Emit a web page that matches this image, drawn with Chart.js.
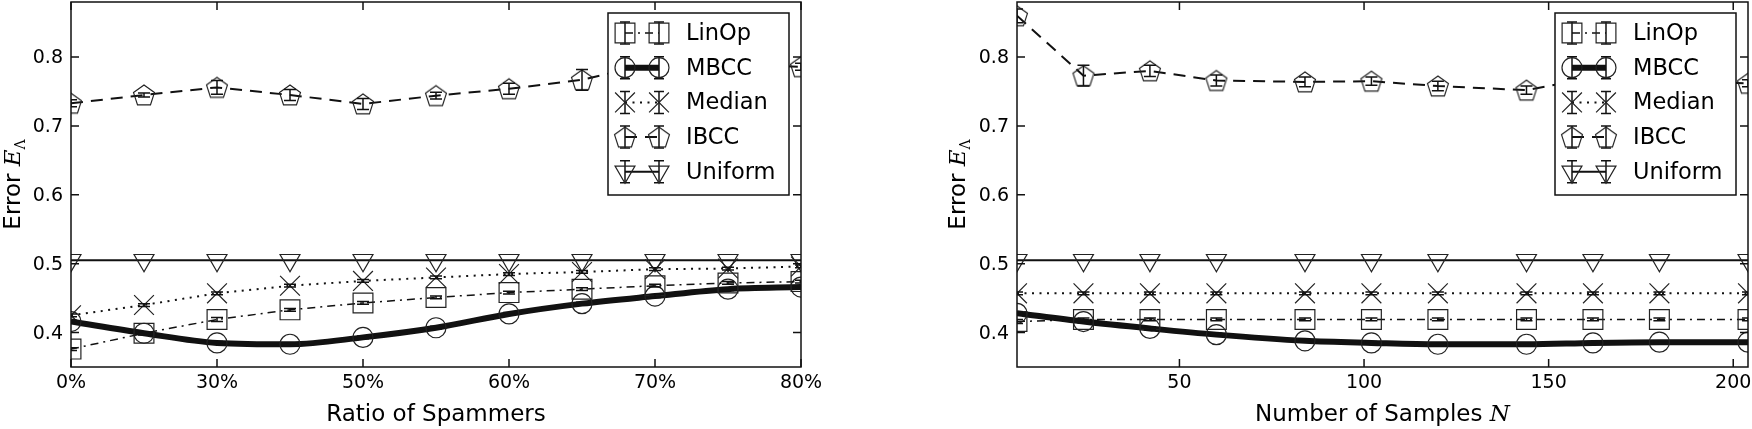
<!DOCTYPE html>
<html>
<head>
<meta charset="utf-8">
<script src="https://cdn.jsdelivr.net/npm/chart.js@4.4.1/dist/chart.umd.min.js"></script>
<style>
    body { margin: 0; background: #fff; width: 1752px; height: 429px; overflow: hidden; position: relative; }
    .panel { position: absolute; top: 0; width: 876px; height: 429px; }
</style>
</head>
<body>
<div class="panel" style="left:0"><canvas id="spam-chart"></canvas></div>
<div class="panel" style="left:876px"><canvas id="samples-chart"></canvas></div>
<script>
    "use strict";

    // x categories / ticks
    var spamLabels = ['0%', '', '30%', '', '50%', '', '60%', '', '70%', '', '80%'];
    var sampleN = [6, 24, 42, 60, 84, 102, 120, 144, 162, 180, 204];
    var sampleTicks = [50, 100, 150, 200];
    var errorTicks = [0.4, 0.5, 0.6, 0.7, 0.8];

    // left panel: error vs ratio of spammers
    var linopSpam   = [0.376, 0.399, 0.419, 0.433, 0.443, 0.451, 0.458, 0.463, 0.468, 0.472, 0.474];
    var mbccSpam    = [0.416, 0.399, 0.385, 0.383, 0.393, 0.407, 0.427, 0.442, 0.453, 0.463, 0.466];
    var medianSpam  = [0.425, 0.440, 0.457, 0.468, 0.475, 0.480, 0.485, 0.488, 0.492, 0.493, 0.496];
    var ibccSpam    = [0.733, 0.745, 0.756, 0.745, 0.732, 0.744, 0.754, 0.767, 0.792, 0.789, 0.786];
    var uniformSpam = [0.505, 0.505, 0.505, 0.505, 0.505, 0.505, 0.505, 0.505, 0.505, 0.505, 0.505];

    var linopSpamErr   = [0.002, 0.002, 0.003, 0.002, 0.002, 0.002, 0.002, 0.002, 0.002, 0.002, 0.002];
    var mbccSpamErr    = [0.002, 0.002, 0.002, 0.002, 0.002, 0.002, 0.002, 0.002, 0.002, 0.002, 0.002];
    var medianSpamErr  = [0.002, 0.002, 0.002, 0.002, 0.002, 0.002, 0.002, 0.002, 0.002, 0.002, 0.002];
    var ibccSpamErr    = [0.005, 0.003, 0.010, 0.008, 0.008, 0.005, 0.008, 0.015, 0.010, 0.005, 0.005];
    var uniformSpamErr = [0, 0, 0, 0, 0, 0, 0, 0, 0, 0, 0];

    // right panel: error vs number of samples
    var linopN   = [0.416, 0.419, 0.419, 0.419, 0.419, 0.419, 0.419, 0.419, 0.419, 0.419, 0.419];
    var mbccN    = [0.428, 0.416, 0.406, 0.397, 0.388, 0.385, 0.383, 0.383, 0.385, 0.386, 0.386];
    var medianN  = [0.457, 0.457, 0.457, 0.457, 0.457, 0.457, 0.457, 0.457, 0.457, 0.457, 0.457];
    var ibccN    = [0.860, 0.773, 0.780, 0.766, 0.764, 0.765, 0.758, 0.752, 0.770, 0.766, 0.762];
    var uniformN = [0.505, 0.505, 0.505, 0.505, 0.505, 0.505, 0.505, 0.505, 0.505, 0.505, 0.505];

    var linopNErr   = [0.003, 0.002, 0.002, 0.002, 0.002, 0.002, 0.002, 0.002, 0.002, 0.002, 0.002];
    var mbccNErr    = [0.002, 0.002, 0.002, 0.002, 0.002, 0.002, 0.002, 0.002, 0.002, 0.002, 0.002];
    var medianNErr  = [0.002, 0.002, 0.002, 0.002, 0.002, 0.002, 0.002, 0.002, 0.002, 0.002, 0.002];
    var ibccNErr    = [0.010, 0.015, 0.008, 0.008, 0.007, 0.006, 0.007, 0.006, 0.005, 0.005, 0.005];
    var uniformNErr = [0, 0, 0, 0, 0, 0, 0, 0, 0, 0, 0];

    var seriesNames = ['LinOp', 'MBCC', 'Median', 'IBCC', 'Uniform'];

    var INK = '#111';
    var SANS = '"DejaVu Sans", sans-serif';
    var TICK_FONT = '19px ' + SANS;

    // pentagon marker, matplotlib 'p'
    var pentagon = (function () {
        var c = document.createElement('canvas');
        c.width = 26;
        c.height = 26;
        var g = c.getContext('2d');
        g.strokeStyle = '#222';
        g.lineWidth = 1.2;
        g.beginPath();
        for (var k = 0; k < 5; k++) {
            var a = -Math.PI / 2 + k * 2 * Math.PI / 5;
            var px = 13 + 11 * Math.cos(a), py = 14 + 11 * Math.sin(a);
            if (k === 0) { g.moveTo(px, py); } else { g.lineTo(px, py); }
        }
        g.closePath();
        g.stroke();
        return c;
    })();

    var styles = {
        LinOp:   { point: 'rect', radius: 14, rotation: 0, dash: [8, 5, 2, 5], width: 1.5 },
        MBCC:    { point: 'circle', radius: 10, rotation: 0, dash: [], width: 6, smooth: true },
        Median:  { point: 'crossRot', radius: 14, rotation: 0, dash: [2, 5.5], width: 2 },
        IBCC:    { point: pentagon, radius: 11, rotation: 0, dash: [12, 8], width: 2 },
        Uniform: { point: 'triangle', radius: 11.5, rotation: 180, dash: [], width: 2 }
    };

    var drawParts = function (ctx, parts, cx, baseY) {
        var total = 0;
        parts.forEach(function (p) {
            ctx.font = p.font;
            total += ctx.measureText(p.text).width;
        });
        var x = cx - total / 2;
        ctx.textAlign = 'left';
        ctx.textBaseline = 'alphabetic';
        parts.forEach(function (p) {
            ctx.font = p.font;
            ctx.fillText(p.text, x, baseY + (p.dy || 0));
            x += ctx.measureText(p.text).width;
        });
    };

    var drawErrorBar = function (ctx, x, yTop, yBot, cap) {
        ctx.beginPath();
        ctx.moveTo(x, yTop);
        ctx.lineTo(x, yBot);
        ctx.moveTo(x - cap, yTop);
        ctx.lineTo(x + cap, yTop);
        ctx.moveTo(x - cap, yBot);
        ctx.lineTo(x + cap, yBot);
        ctx.stroke();
    };

    // frame, inward ticks, tick labels, error bars, axis titles and legend
    var makeDecor = function (cfg) {
        return {
            id: 'decor',
            afterDatasetsDraw: function (chart) {
                var ctx = chart.ctx, y = chart.scales.y, area = chart.chartArea;
                ctx.save();
                ctx.beginPath();
                ctx.rect(area.left, area.top, area.right - area.left, area.bottom - area.top);
                ctx.clip();
                ctx.strokeStyle = INK;
                ctx.lineWidth = 1.5;
                ctx.setLineDash([]);
                chart.data.datasets.forEach(function (ds, di) {
                    var meta = chart.getDatasetMeta(di);
                    meta.data.forEach(function (pt, i) {
                        var e = ds.errors[i];
                        if (!e) {
                            return;
                        }
                        var v = cfg.values[di][i];
                        drawErrorBar(ctx, pt.x, y.getPixelForValue(v + e), y.getPixelForValue(v - e), 6);
                    });
                });
                ctx.restore();
            },
            afterDraw: function (chart) {
                var ctx = chart.ctx, area = chart.chartArea;
                var xs = chart.scales.x, ys = chart.scales.y;
                ctx.save();
                ctx.strokeStyle = INK;
                ctx.fillStyle = '#000';
                ctx.setLineDash([]);
                ctx.lineWidth = 1.5;
                ctx.strokeRect(area.left, area.top, area.right - area.left, area.bottom - area.top);

                var tl = 8;
                ctx.font = TICK_FONT;
                ctx.beginPath();
                cfg.xTicks.forEach(function (t) {
                    var px = xs.getPixelForValue(t.value);
                    ctx.moveTo(px, area.bottom);
                    ctx.lineTo(px, area.bottom - tl);
                    ctx.moveTo(px, area.top);
                    ctx.lineTo(px, area.top + tl);
                });
                errorTicks.forEach(function (v) {
                    var py = ys.getPixelForValue(v);
                    ctx.moveTo(area.left, py);
                    ctx.lineTo(area.left + tl, py);
                    ctx.moveTo(area.right, py);
                    ctx.lineTo(area.right - tl, py);
                });
                ctx.stroke();

                // tick labels
                ctx.textAlign = 'center';
                ctx.textBaseline = 'top';
                cfg.xTicks.forEach(function (t) {
                    ctx.fillText(t.label, xs.getPixelForValue(t.value), area.bottom + 7);
                });
                ctx.textAlign = 'right';
                ctx.textBaseline = 'middle';
                errorTicks.forEach(function (v) {
                    ctx.fillText(v.toFixed(1), area.left - 8, ys.getPixelForValue(v) + 1);
                });

                // axis titles
                drawParts(ctx, cfg.xTitle, (area.left + area.right) / 2, 421);
                ctx.save();
                ctx.translate(cfg.yTitleX, (area.top + area.bottom) / 2);
                ctx.rotate(-Math.PI / 2);
                drawParts(ctx, cfg.yTitle, 0, 8);
                ctx.restore();

                // legend
                var bw = 181, bh = 182;
                var bx = area.right - 12 - bw, by = area.top + 11;
                ctx.fillStyle = '#fff';
                ctx.fillRect(bx, by, bw, bh);
                ctx.lineWidth = 1.5;
                ctx.strokeStyle = INK;
                ctx.strokeRect(bx, by, bw, bh);
                seriesNames.forEach(function (name, k) {
                    var st = styles[name];
                    var cy = by + 20 + k * 34.7;
                    var m1 = bx + 17, m2 = bx + 51;
                    ctx.strokeStyle = INK;
                    ctx.lineWidth = st.width;
                    ctx.setLineDash(st.dash);
                    ctx.beginPath();
                    ctx.moveTo(m1, cy);
                    ctx.lineTo(m2, cy);
                    ctx.stroke();
                    ctx.setLineDash([]);
                    ctx.lineWidth = 1.5;
                    drawErrorBar(ctx, m1, cy - 11, cy + 11, 5);
                    drawErrorBar(ctx, m2, cy - 11, cy + 11, 5);
                    ctx.strokeStyle = '#222';
                    ctx.fillStyle = 'rgba(0,0,0,0)';
                    ctx.lineWidth = 1.2;
                    [m1, m2].forEach(function (mx) {
                        Chart.helpers.drawPoint(ctx, {
                            pointStyle: st.point,
                            radius: st.radius,
                            rotation: st.rotation,
                            borderWidth: 1.2
                        }, mx, cy);
                    });
                    ctx.fillStyle = '#000';
                    ctx.font = '22.5px ' + SANS;
                    ctx.textAlign = 'left';
                    ctx.textBaseline = 'middle';
                    ctx.fillText(name, bx + 78, cy + 1);
                });
                ctx.restore();
            }
        };
    };

    var buildDatasets = function (values, errors, xs) {
        return seriesNames.map(function (name, k) {
            var st = styles[name];
            return {
                label: name,
                data: xs ? values[k].map(function (v, i) { return { x: xs[i], y: v }; }) : values[k],
                errors: errors[k],
                borderColor: INK,
                borderWidth: st.width,
                borderDash: st.dash,
                tension: st.smooth ? 0.4 : 0,
                cubicInterpolationMode: st.smooth ? 'monotone' : 'default',
                pointStyle: st.point,
                pointRadius: st.radius,
                pointRotation: st.rotation,
                pointBorderColor: '#222',
                pointBorderWidth: 1.2,
                pointBackgroundColor: 'rgba(0,0,0,0)',
                fill: false,
                clip: 0
            };
        });
    };

    // axes carry only the mapping; labels, ticks and frame come from the decor plugin
    var yScale = function (axisWidth) {
        return {
            type: 'linear',
            min: 0.35,
            max: 0.88,
            afterFit: function (scale) {
                scale.width = axisWidth;
            },
            grid: { display: false, drawTicks: false },
            border: { display: false },
            ticks: { display: false }
        };
    };

    var xFit = function (scale) {
        scale.height = 62;
    };

    var titleE = [
        { text: 'Error ', font: '23px ' + SANS },
        { text: 'E', font: 'italic 23px "DejaVu Serif"' },
        { text: 'Λ', font: '14px "DejaVu Serif"', dy: 5 }
    ];

    Chart.defaults.font.family = SANS;

    // Ratio of spammers
    var spamValues = [linopSpam, mbccSpam, medianSpam, ibccSpam, uniformSpam];
    var spamErrors = [linopSpamErr, mbccSpamErr, medianSpamErr, ibccSpamErr, uniformSpamErr];
    var spamTicks = [];
    spamLabels.forEach(function (label, i) {
        if (label !== '') {
            spamTicks.push({ value: i, label: label });
        }
    });
    new Chart(document.getElementById('spam-chart'), {
        type: 'line',
        data: {
            labels: spamLabels,
            datasets: buildDatasets(spamValues, spamErrors)
        },
        options: {
            responsive: true,
            maintainAspectRatio: false,
            animation: false,
            events: [],
            layout: { autoPadding: false, padding: { top: 2, right: 75, left: 0, bottom: 0 } },
            plugins: { legend: { display: false }, tooltip: { enabled: false } },
            scales: {
                x: {
                    type: 'category',
                    afterFit: xFit,
                    grid: { display: false, drawTicks: false },
                    border: { display: false },
                    ticks: { display: false }
                },
                y: yScale(71)
            }
        },
        plugins: [makeDecor({
            values: spamValues,
            xTicks: spamTicks,
            xTitle: [{ text: 'Ratio of Spammers', font: '23px ' + SANS }],
            yTitle: titleE,
            yTitleX: 12
        })]
    });

    // Number of samples
    var nValues = [linopN, mbccN, medianN, ibccN, uniformN];
    var nErrors = [linopNErr, mbccNErr, medianNErr, ibccNErr, uniformNErr];
    new Chart(document.getElementById('samples-chart'), {
        type: 'line',
        data: {
            datasets: buildDatasets(nValues, nErrors, sampleN)
        },
        options: {
            responsive: true,
            maintainAspectRatio: false,
            animation: false,
            events: [],
            layout: { autoPadding: false, padding: { top: 2, right: 4, left: 0, bottom: 0 } },
            plugins: { legend: { display: false }, tooltip: { enabled: false } },
            scales: {
                x: {
                    type: 'linear',
                    min: sampleN[0],
                    max: sampleN[sampleN.length - 1],
                    afterFit: xFit,
                    grid: { display: false, drawTicks: false },
                    border: { display: false },
                    ticks: { display: false }
                },
                y: yScale(141)
            }
        },
        plugins: [makeDecor({
            values: nValues,
            xTicks: sampleTicks.map(function (v) { return { value: v, label: String(v) }; }),
            xTitle: [
                { text: 'Number of Samples ', font: '23px ' + SANS },
                { text: 'N', font: 'italic 23px "DejaVu Serif"' }
            ],
            yTitle: titleE,
            yTitleX: 81
        })]
    });
</script>
</body>
</html>
